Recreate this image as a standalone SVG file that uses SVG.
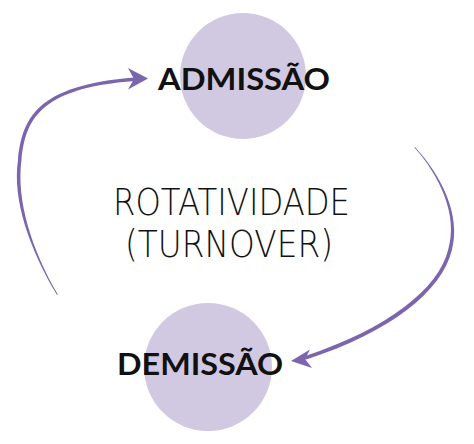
<svg xmlns="http://www.w3.org/2000/svg" width="474" height="444" viewBox="0 0 474 444">
<style>
.bg{fill:#ffffff}
.node{fill:#d1c9e2}
.lbl{font-family:"Lato","Liberation Sans",sans-serif;font-weight:700;font-size:31px;fill:#111111}
.title{font-family:"DejaVu Sans","Liberation Sans",sans-serif;font-weight:200;font-size:37px;fill:#111111}
.arrow{fill:#7b65ad;stroke:none}
</style>
<rect class="bg" x="0" y="0" width="474" height="444"/>
<g id="admissao">
<circle class="node" cx="243" cy="76" r="63"/>
<text class="lbl" x="158" y="90" textLength="172" lengthAdjust="spacingAndGlyphs">ADMISSÃO</text>
</g>
<g id="demissao">
<circle class="node" cx="208" cy="367" r="64"/>
<text class="lbl" x="117" y="375" textLength="166" lengthAdjust="spacingAndGlyphs">DEMISSÃO</text>
</g>
<g id="rotatividade">
<text class="title" x="113" y="215" textLength="237" lengthAdjust="spacingAndGlyphs">ROTATIVIDADE</text>
<text class="title" x="125" y="257" textLength="208" lengthAdjust="spacingAndGlyphs">(TURNOVER)</text>
</g>
<g id="connectors">
<path class="arrow" d="M57,295 C30,250 12,200 18,160 C22,120 35,85 135,77.5 L135,81 C38,88 25.5,121 21.5,160 C16,201 32,250 57.8,294.5 Z"/>
<path class="arrow" d="M148,78.5 L128,68 L134,79 L128,89.5 Z"/>
<path class="arrow" d="M415,147 C441,175 461.5,215 451.8,250.5 C441.5,291 392,331.5 305.5,359.8 L304.5,356.3 C388,328.5 438.5,289 448.2,249.5 C458.5,215 439,175 414.4,147.6 Z"/>
<path class="arrow" d="M291,361 L310,349.5 L305,359 L312,368 Z"/>
</g>
</svg>
